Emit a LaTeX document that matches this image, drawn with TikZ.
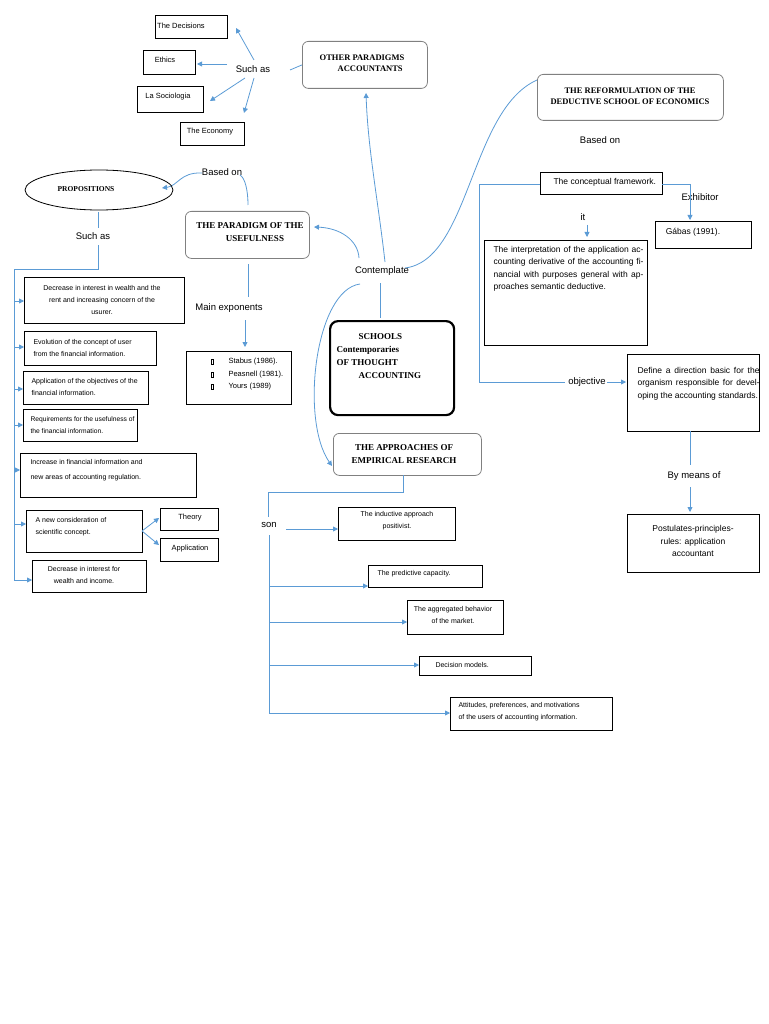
\documentclass[tikz,border=0pt]{standalone}
\usepackage{fontspec}
\setmainfont{Liberation Sans}
\newfontfamily\hd{Liberation Serif}
\usetikzlibrary{arrows.meta,shapes.geometric}
\definecolor{lb}{RGB}{91,155,213}
\begin{document}
\begin{tikzpicture}[x=1pt,y=-1pt,
 bx/.style={draw,thick,inner sep=0pt,anchor=north west,font=\fontsize{7.5}{9.5}\selectfont},
 hb/.style={draw=gray,rounded corners=6pt,thick,inner sep=0pt,anchor=north west,font=\hd\bfseries\fontsize{9}{12}\selectfont,align=center},
 lab/.style={font=\fontsize{9.5}{11}\selectfont,inner sep=1pt},
 ar/.style={draw=lb,thick,-{Triangle[width=5pt,length=5pt]}},
 ln/.style={draw=lb,thick}]
\useasboundingbox (0,0) rectangle (768,1024);
% top-left
\node[bx,minimum width=72,minimum height=23] (dec) at (155,15) {};
\node[font=\fontsize{7.5}{9}\selectfont] at (181,26) {The Decisions};
\node[bx,minimum width=52,minimum height=24] (eth) at (143,50) {};
\node[font=\fontsize{7.5}{9}\selectfont] at (165,60) {Ethics};
\node[bx,minimum width=66,minimum height=26] (soc) at (137,86) {};
\node[font=\fontsize{7.5}{9}\selectfont] at (168,97) {La Sociologia};
\node[bx,minimum width=64,minimum height=23] (eco) at (180,122) {};
\node[font=\fontsize{7.5}{9}\selectfont] at (210,132) {The Economy};
\node[lab] (sa1) at (253,69) {Such as};
\coordinate (s1) at (254,60); \coordinate (s2) at (227,64);\coordinate (s3) at (245,78);\coordinate (s4) at (254,78);
\draw[ar] (s1) -- (236,28);
\draw[ar] (s2) -- (197,64);
\draw[ar] (s3) -- (210,101);
\draw[ar] (s4) -- (244,113);
\node[hb,minimum width=125,minimum height=47] (oth) at (302,41) {};
\node[font=\hd\bfseries\fontsize{8.5}{11}\selectfont,align=left] at (362,63) {OTHER PARADIGMS\\\hspace*{18pt}ACCOUNTANTS};
\draw[ln] (oth.west) -- (290,70);
% contemplate
\node[lab] (con) at (382,271) {Contemplate};
\draw[ar] (385,262) .. controls (378,200) and (368,150) .. (366,93);
\draw[ln] (405,268) .. controls (470,260) and (470,110) .. (537,80);
\draw[ar] (359,258) .. controls (358,240) and (340,228) .. (314,227);
\draw[ln] (380,283) -- (380,318);
\draw[ar] (360,284) .. controls (315,290) and (300,420) .. (332,466);
% reformulation
\node[hb,minimum width=186,minimum height=46] (ref) at (537,74) {};
\node[font=\hd\bfseries\fontsize{8.5}{11}\selectfont,align=center] at (630,96) {THE REFORMULATION OF THE\\DEDUCTIVE SCHOOL OF ECONOMICS};
\node[lab] at (600,140) {Based on};
\node[bx,minimum width=122,minimum height=22] (cf) at (540,172) {};
\node[font=\fontsize{8.5}{10}\selectfont,anchor=west] at (550,182) {The conceptual framework.};
\node[lab] at (583,217) {it};
\draw[ar] (587,225) -- (587,237);
\node[bx,minimum width=163,minimum height=105] (int) at (484,240) {};
\node[font=\fontsize{8.5}{12.3}\selectfont,text width=150,align=justify,anchor=north west] at (490,243) {The interpretation of the application accounting derivative of the accounting financial with purposes general with approaches semantic deductive.};
\node[lab] at (700,197) {Exhibitor};
\draw[ar] (662,184) -- (690,184) -- (690,220);
\node[bx,minimum width=96,minimum height=27] (gab) at (655,221) {};
\node[font=\fontsize{8.5}{10}\selectfont] at (693,232) {Gábas (1991).};
\draw[ln] (540,184) -- (479,184) -- (479,382) -- (565,382);
\node[lab] at (587,382) {objective};
\draw[ar] (607,382) -- (626,382);
\node[bx,minimum width=132,minimum height=77] (def) at (627,354) {};
\node[font=\fontsize{8.5}{12.3}\selectfont,text width=122,align=justify,anchor=north west] at (634,364) {Define a direction basic for the organism responsible for developing the accounting standards.};
\draw[ln] (690,431) -- (690,465);
\node[lab] at (694,476) {By means of};
\draw[ar] (690,487) -- (690,512);
\node[bx,minimum width=132,minimum height=58] (pos) at (627,514) {};
\node[font=\fontsize{8.5}{12.5}\selectfont,align=center] at (693,541) {Postulates-principles-\\rules: application\\accountant};
% schools
\node[draw,line width=2.2pt,rounded corners=8pt,minimum width=124,minimum height=94,anchor=north west] (sch) at (329,320) {};
\node[font=\hd\bfseries\fontsize{9}{13}\selectfont,align=left,anchor=north west] at (333,330) {\hspace*{22pt}SCHOOLS\\Contemporaries\\ OF THOUGHT\\\hspace*{22pt}ACCOUNTING};
% paradigm
\node[hb,minimum width=124,minimum height=47] (par) at (185,211) {};
\node[font=\hd\bfseries\fontsize{9}{13}\selectfont,align=center] at (250,232) {THE PARADIGM OF THE\\\hspace*{10pt}USEFULNESS};
\draw[ln] (248,205) .. controls (248,190) and (245,178) .. (240,175);
\node[lab] at (222,172) {Based on};
\draw[ar] (202,173) .. controls (180,172) and (178,186) .. (162,188);
\node[draw,thick,ellipse,minimum width=148,minimum height=40] (pro) at (99,190) {};
\node[font=\hd\bfseries\fontsize{7.5}{9}\selectfont] at (86,189) {PROPOSITIONS};
\draw[ln] (98,212) -- (98,228);
\node[lab] at (93,236) {Such as};
\draw[ln] (98,245) -- (98,269) -- (14,269) -- (14,580);
\draw[ln] (248,264) -- (248,297);
\node[lab] at (229,308) {Main exponents};
\draw[ar] (245,320) -- (245,347);
\node[bx,minimum width=105,minimum height=53] (exp) at (186,351) {};
\foreach \y/\t in {362/Stabus (1986).,375/Peasnell (1981).,387/Yours (1989)}{
 \draw[thin] (211,\y-2.5) rectangle (213,\y+2.5);
 \node[font=\fontsize{7.5}{9}\selectfont,anchor=west] at (225,\y) {\t};}
% left boxes
\node[bx,minimum width=160,minimum height=46] (l1) at (24,277) {};
\node[font=\fontsize{7}{12}\selectfont,align=center] at (102,300) {Decrease in interest in wealth and the\\ rent and increasing concern of the\\ usurer.};
\node[bx,minimum width=132,minimum height=34] (l2) at (24,331) {};
\node[font=\fontsize{7}{12}\selectfont,align=left,anchor=west] at (30,348) {Evolution of the concept of user\\from the financial information.};
\node[bx,minimum width=125,minimum height=33] (l3) at (23,371) {};
\node[font=\fontsize{7}{12}\selectfont,align=left,anchor=west] at (28,387) {Application of the objectives of the\\financial information.};
\node[bx,minimum width=114,minimum height=32] (l4) at (23,409) {};
\node[font=\fontsize{6.7}{12}\selectfont,align=left,anchor=west] at (27,425) {Requirements for the usefulness of\\the financial information.};
\node[bx,minimum width=176,minimum height=44] (l5) at (20,453) {};
\node[font=\fontsize{7}{15}\selectfont,align=left,anchor=west] at (27,470) {Increase in financial information and\\new areas of accounting regulation.};
\node[bx,minimum width=116,minimum height=42] (l6) at (26,510) {};
\node[font=\fontsize{7}{12}\selectfont,align=left,anchor=west] at (32,527) {A new consideration of\\scientific concept.};
\node[bx,minimum width=114,minimum height=32] (l7) at (32,560) {};
\node[font=\fontsize{7}{12}\selectfont,align=center] at (84,575) {Decrease in interest for\\ wealth and income.};
\foreach \y/\x in {301/24,347/24,389/23,425/23,470/20,524/26,580/32}{\draw[ar] (14,\y) -- (\x,\y);}
\node[bx,minimum width=58,minimum height=22] (th) at (160,508) {};
\node[font=\fontsize{7.5}{9}\selectfont] at (190,518) {Theory};
\node[bx,minimum width=58,minimum height=23] (ap) at (160,538) {};
\node[font=\fontsize{7.5}{9}\selectfont] at (190,549) {Application};
\draw[ar] (142,531) -- (159,518);
\draw[ar] (142,531) -- (159,545);
% approaches
\node[hb,minimum width=148,minimum height=42] (app) at (333,433) {};
\node[font=\hd\bfseries\fontsize{9}{13}\selectfont,align=center] at (404,454) {THE APPROACHES OF\\EMPIRICAL RESEARCH};
\draw[ln] (403,475) -- (403,492) -- (268,492) -- (268,517);
\node[lab] at (269,525) {son};
\draw[ar] (286,529) -- (338,529);
\draw[ln] (269,535) -- (269,713);
\node[bx,minimum width=117,minimum height=33] (i1) at (338,507) {};
\node[font=\fontsize{7}{12}\selectfont,align=center] at (397,521) {The inductive approach\\positivist.};
\node[bx,minimum width=114,minimum height=22] (i2) at (368,565) {};
\node[font=\fontsize{7}{9}\selectfont,anchor=west] at (374,574) {The predictive capacity.};
\node[bx,minimum width=96,minimum height=34] (i3) at (407,600) {};
\node[font=\fontsize{7}{12}\selectfont,align=center] at (453,615) {The aggregated behavior\\ of the market.};
\node[bx,minimum width=112,minimum height=19] (i4) at (419,656) {};
\node[font=\fontsize{7}{9}\selectfont,anchor=west] at (432,665) {Decision models.};
\node[bx,minimum width=162,minimum height=33] (i5) at (450,697) {};
\node[font=\fontsize{7}{12}\selectfont,align=left,anchor=west] at (455,712) {Attitudes, preferences, and motivations\\of the users of accounting information.};
\draw[ar] (269,586) -- (368,586);
\draw[ar] (269,622) -- (407,622);
\draw[ar] (269,665) -- (419,665);
\draw[ar] (269,713) -- (450,713);
\end{tikzpicture}
\end{document}
